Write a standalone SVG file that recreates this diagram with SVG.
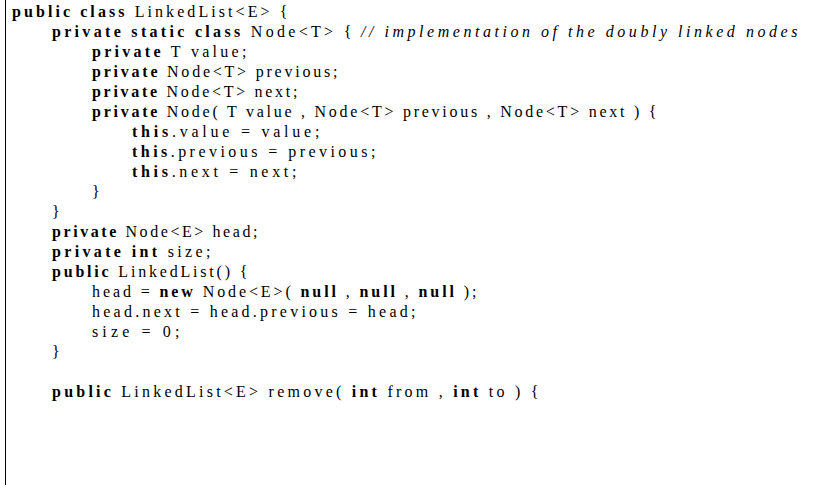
<svg xmlns="http://www.w3.org/2000/svg" width="817" height="485" viewBox="0 0 817 485">
<style>
text{font-family:"Liberation Serif",serif;font-size:16px;fill:#000;letter-spacing:0.6px}
.k{font-weight:bold}
.c{font-style:italic}
</style>
<rect width="817" height="485" fill="#fff"/>
<line x1="5.5" y1="0" x2="5.5" y2="485" stroke="#000" stroke-width="1"/>
<g id="code">
<text x="12" y="17" textLength="276" lengthAdjust="spacing"><tspan class="k">public class</tspan> LinkedList&lt;E&gt; {</text>
<text x="52" y="37" textLength="300" lengthAdjust="spacing"><tspan class="k">private static class</tspan> Node&lt;T&gt; {</text>
<text x="361" y="37" textLength="437" lengthAdjust="spacing" class="c">// implementation of the doubly linked nodes</text>
<text x="92" y="57" textLength="155" lengthAdjust="spacing"><tspan class="k">private</tspan> T value;</text>
<text x="92" y="77" textLength="246" lengthAdjust="spacing"><tspan class="k">private</tspan> Node&lt;T&gt; previous;</text>
<text x="92" y="97" textLength="206" lengthAdjust="spacing"><tspan class="k">private</tspan> Node&lt;T&gt; next;</text>
<text x="92" y="117" textLength="565" lengthAdjust="spacing"><tspan class="k">private</tspan> Node( T value , Node&lt;T&gt; previous , Node&lt;T&gt; next ) {</text>
<text x="132" y="137" textLength="188" lengthAdjust="spacing"><tspan class="k">this</tspan>.value = value;</text>
<text x="132" y="157" textLength="244" lengthAdjust="spacing"><tspan class="k">this</tspan>.previous = previous;</text>
<text x="132" y="177" textLength="165" lengthAdjust="spacing"><tspan class="k">this</tspan>.next = next;</text>
<text x="92" y="197">}</text>
<text x="52" y="217">}</text>
<text x="52" y="237" textLength="206" lengthAdjust="spacing"><tspan class="k">private</tspan> Node&lt;E&gt; head;</text>
<text x="52" y="257" textLength="159" lengthAdjust="spacing"><tspan class="k">private int</tspan> size;</text>
<text x="52" y="277" textLength="196" lengthAdjust="spacing"><tspan class="k">public</tspan> LinkedList() {</text>
<text x="92" y="297" textLength="385" lengthAdjust="spacing">head = <tspan class="k">new</tspan> Node&lt;E&gt;( <tspan class="k">null</tspan> , <tspan class="k">null</tspan> , <tspan class="k">null</tspan> );</text>
<text x="92" y="317" textLength="324" lengthAdjust="spacing">head.next = head.previous = head;</text>
<text x="92" y="337" textLength="88" lengthAdjust="spacing">size = 0;</text>
<text x="52" y="357">}</text>
<text x="52" y="397" textLength="487" lengthAdjust="spacing"><tspan class="k">public</tspan> LinkedList&lt;E&gt; remove( <tspan class="k">int</tspan> from , <tspan class="k">int</tspan> to ) {</text>
</g>
</svg>
